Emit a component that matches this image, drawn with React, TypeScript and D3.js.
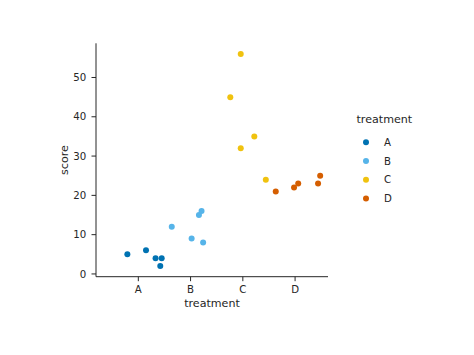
import React from "react";
import * as d3 from "d3";

const categories = ["A", "B", "C", "D"];
const colors = ["#0072B2", "#56B4E9", "#F0C20F", "#D55E00"];
const treatment = ["A","A","A","A","A","B","B","B","B","B","C","C","C","C","C","D","D","D","D","D"];
const xpos = [-0.21, 0.147, 0.33, 0.447, 0.42, 0.64, 1.02, 1.16, 1.21, 1.24, 1.96, 1.76, 2.22, 1.96, 2.44, 2.63, 2.98, 3.06, 3.44, 3.48];
const score = [5, 6, 4, 4, 2, 12, 9, 15, 16, 8, 56, 45, 35, 32, 24, 21, 22, 23, 23, 25];
const yTicks = [0, 10, 20, 30, 40, 50];

export default function App() {
  const W = 474, H = 355;
  const x = d3.scaleLinear().domain([-0.81, 3.63]).range([96, 328]);
  const y = d3.scaleLinear().domain([-0.7, 58.7]).range([276.7, 43.3]);
  const color = d3.scaleOrdinal<string, string>().domain(categories).range(colors);
  const font = "DejaVu Sans, sans-serif";
  const fs = 10.2;
  const fl = 11.1;
  const tl = 4.5;
  return (
    <svg width={W} height={H} style={{ position: "absolute", left: 0, top: 0 }} fontFamily={font}>
      <rect width={W} height={H} fill="#fff" />
      <line x1={x.range()[0]} x2={x.range()[0]} y1={y.range()[0]} y2={y.range()[1]} stroke="#262626" strokeWidth={1} />
      <line x1={x.range()[0]} x2={x.range()[1]} y1={y.range()[0]} y2={y.range()[0]} stroke="#262626" strokeWidth={1} />
      {yTicks.map((t) => (
        <g key={t}>
          <line x1={x.range()[0] - tl} x2={x.range()[0]} y1={y(t)} y2={y(t)} stroke="#262626" strokeWidth={1} />
          <text x={x.range()[0] - 9.7} y={y(t)} dy="0.36em" textAnchor="end" fontSize={fs} fill="#262626">{t}</text>
        </g>
      ))}
      {categories.map((c, i) => (
        <g key={c}>
          <line x1={x(i)} x2={x(i)} y1={y.range()[0]} y2={y.range()[0] + tl} stroke="#262626" strokeWidth={1} />
          <text x={x(i)} y={293.3} textAnchor="middle" fontSize={fs} fill="#262626">{c}</text>
        </g>
      ))}
      <text x={(x.range()[0] + x.range()[1]) / 2} y={307.3} textAnchor="middle" fontSize={fl} fill="#262626">treatment</text>
      <text transform={`translate(67.7,160) rotate(-90)`} textAnchor="middle" fontSize={fl} fill="#262626">score</text>
      {score.map((s, i) => (
        <circle key={i} cx={x(xpos[i])} cy={y(s)} r={3} fill={color(treatment[i])} />
      ))}
      <text x={356.5} y={123.3} fontSize={fl} fill="#262626">treatment</text>
      {categories.map((c, i) => (
        <g key={c} transform={`translate(0,${142.3 + i * 18.7})`}>
          <circle cx={366} cy={0} r={3} fill={color(c)} />
          <text x={384} y={0} dy="0.36em" fontSize={fs} fill="#262626">{c}</text>
        </g>
      ))}
    </svg>
  );
}
